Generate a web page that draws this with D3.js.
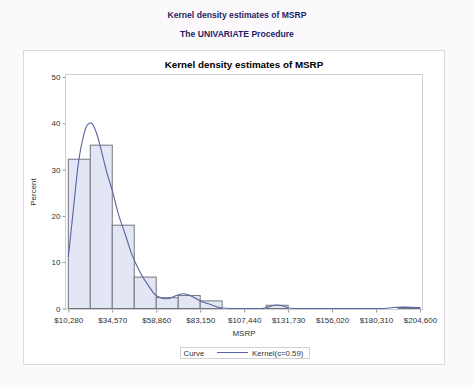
<!DOCTYPE html>
<html><head><meta charset="utf-8">
<script src="https://cdn.jsdelivr.net/npm/d3@7"></script>
<style>
html,body{margin:0;padding:0;background:#fcf9fc;}
svg{display:block;}
text{font-family:"Liberation Sans",Arial,sans-serif;}
</style></head>
<body><svg id="c" width="474" height="387"></svg>
<script>
// ---- data ----
const pageTitles = ["Kernel density estimates of MSRP", "The UNIVARIATE Procedure"];
const chartTitle = "Kernel density estimates of MSRP";
const xTickValues = [10280, 34570, 58860, 83150, 107440, 131730, 156020, 180310, 204600];
const yTickValues = [0, 10, 20, 30, 40, 50];
const binStarts = [10280, 22425, 34570, 46715, 58860, 71005, 83150, 95295, 107440, 119585, 131730, 143875, 156020, 168165, 180310, 192455];
const binWidth = 12145;
const binPercent = [32.24, 35.28, 17.99, 6.78, 2.34, 2.80, 1.64, 0, 0, 0.70, 0, 0, 0, 0, 0, 0.23];
const kernelX = [10280, 13040, 15800, 18560, 20700, 22810, 25960, 28720, 31480, 34790, 37880, 41580, 45280, 49860, 54440, 59080, 64600, 70000, 73760, 77460, 82980, 88500, 94960, 99540, 117200, 120600, 125320, 129350, 132660, 138180, 185100, 189500, 196100, 204400];
const kernelY = [11.1, 21.2, 31.3, 37.1, 39.6, 40.1, 37.8, 33.8, 29.5, 25.2, 20.5, 16.2, 11.8, 7.9, 5.0, 2.7, 2.1, 2.8, 3.2, 2.8, 1.7, 0.9, 0.1, 0, 0, 0.3, 0.75, 0.5, 0.05, 0, 0, 0.2, 0.3, 0.15];
const xLabel = "MSRP", yLabel = "Percent";
const legendTitle = "Curve", legendLabel = "Kernel(c=0.59)";

const svg = d3.select("#c");
const fmt = d => "$" + d3.format(",")(d);

// page titles
svg.selectAll("text.pt").data(pageTitles).join("text")
  .attr("x", 237).attr("y", (d, i) => 18 + i * 18.5)
  .attr("text-anchor", "middle").attr("font-size", 8.6).attr("font-weight", "bold")
  .attr("fill", "#1f1f66").text(d => d);

// outer graph frame
svg.append("rect").attr("x", 23.5).attr("y", 50.5).attr("width", 421).attr("height", 314)
  .attr("fill", "#ffffff").attr("stroke", "#dcdcdc");

svg.append("text").attr("x", 244).attr("y", 67.5).attr("text-anchor", "middle")
  .attr("font-size", 9.8).attr("font-weight", "bold").attr("fill", "#000").text(chartTitle);

const x = d3.scaleLinear().domain([10280, 204600]).range([68.3, 420]);
const y = d3.scaleLinear().domain([0, 50]).range([308.5, 77]);

// plot frame
svg.append("rect").attr("x", 65.5).attr("y", 74.5).attr("width", 357).attr("height", 235)
  .attr("fill", "#ffffff").attr("stroke", "#cfcfcf");

// bars
svg.append("g").selectAll("rect").data(binStarts.map((s, i) => ({s, p: binPercent[i]})).filter(d => d.p > 0))
  .join("rect")
  .attr("x", d => x(d.s)).attr("y", d => y(d.p))
  .attr("width", d => x(d.s + binWidth) - x(d.s)).attr("height", d => y(0) - y(d.p))
  .attr("fill", "#e3e7f5").attr("stroke", "#74767e").attr("stroke-width", 1);

// kernel curve
const line = d3.line().x(d => x(d[0])).y(d => y(d[1])).curve(d3.curveMonotoneX);
svg.append("path").datum(kernelX.map((v, i) => [v, kernelY[i]]))
  .attr("d", line).attr("fill", "none").attr("stroke", "#5a63a3").attr("stroke-width", 1.1);

// axes
const xAxis = d3.axisBottom(x).tickValues(xTickValues).tickFormat(fmt).tickSize(3).tickSizeOuter(0);
const gx = svg.append("g").attr("transform", "translate(0,309.5)").call(xAxis);
gx.select(".domain").remove();
gx.selectAll("line").attr("stroke", "#9a9a9a");
gx.selectAll("text").attr("font-size", 8).attr("fill", "#333").attr("dy", "0.9em")
  .attr("font-family", "Liberation Sans, Arial, sans-serif");

const yAxis = d3.axisLeft(y).tickValues(yTickValues).tickSize(3).tickSizeOuter(0);
const gy = svg.append("g").attr("transform", "translate(65.5,0)").call(yAxis);
gy.select(".domain").remove();
gy.selectAll("line").attr("stroke", "#9a9a9a");
gy.selectAll("text").attr("font-size", 8).attr("fill", "#333").attr("x", -5)
  .attr("font-family", "Liberation Sans, Arial, sans-serif");

svg.append("text").attr("x", 244).attr("y", 336).attr("text-anchor", "middle")
  .attr("font-size", 8).attr("fill", "#333").text(xLabel);
svg.append("text").attr("transform", "translate(36,192) rotate(-90)").attr("text-anchor", "middle")
  .attr("font-size", 8).attr("fill", "#333").text(yLabel);

// legend
const lg = svg.append("g");
lg.append("rect").attr("x", 180.5).attr("y", 347.5).attr("width", 129).attr("height", 11)
  .attr("fill", "#fff").attr("stroke", "#d0d0d0");
lg.append("text").attr("x", 183.5).attr("y", 356).attr("font-size", 7.8).attr("fill", "#333").text(legendTitle);
lg.append("line").attr("x1", 217).attr("x2", 248).attr("y1", 352.5).attr("y2", 352.5)
  .attr("stroke", "#5a63a3").attr("stroke-width", 1);
lg.append("text").attr("x", 252).attr("y", 356).attr("font-size", 7.8).attr("fill", "#333").text(legendLabel);
</script></body></html>
